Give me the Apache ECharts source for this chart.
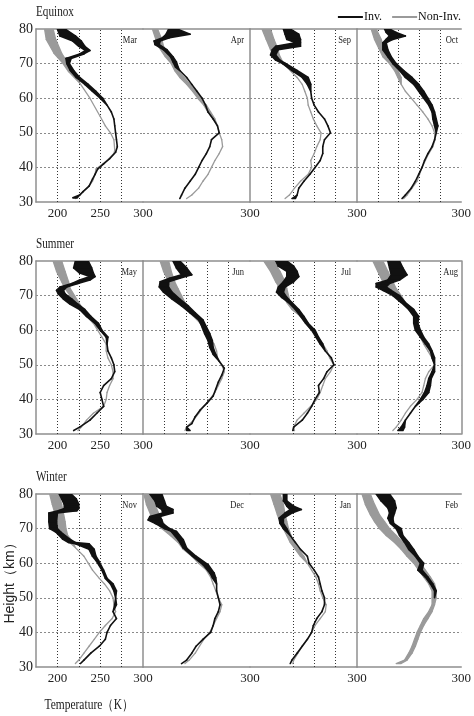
<!DOCTYPE html>
<html>
<head>
<meta charset="utf-8">
<script src="https://cdn.jsdelivr.net/npm/echarts@6/dist/echarts.min.js"></script>
<style>
  html, body { margin: 0; padding: 0; background: #fff; }
  #chart { width: 474px; height: 716px; }
</style>
</head>
<body>
<div id="chart"></div>
<script>
// -------------------------------------------------------------
// Data: temperature profiles
// each point is [height km, T] or [height km, T low, T high]
// -------------------------------------------------------------
var seasons = ['Equinox', 'Summer', 'Winter'];
var months = ['Mar', 'Apr', 'Sep', 'Oct', 'May', 'Jun', 'Jul', 'Aug', 'Nov', 'Dec', 'Jan', 'Feb'];
var firstPanelTempLabels = [200, 250, 300];
var otherPanelTempLabels = [300];
var allGridTemps = [200, 225, 250, 275];
var shortGridTemps = [225, 250, 275];

var marNon = [[80,185,195],[77,187,198],[73,196,205],[70.2,206,212],[67.7,213,216],[64.4,226],[60,238],[54.7,250],[52,256],[50,262],[48,266],[45,267],[44,266],[42.5,260],[41,253],[39.5,245],[38,244],[36,241],[34.6,237],[33,230],[32,226],[31,221]];
var marInv = [[80,200,209],[78,203,221],[76.5,218,228],[75,225,232],[73.8,233,238],[72.8,226,231],[71.5,210,216],[70,211,214],[68,215,219],[66,222,226],[64,232,236],[62,241,245],[60,250,253],[58,258],[56,263],[54,266],[52,267],[50,268],[48,269],[46,270],[44.4,268],[42.5,261],[41,254],[39.5,247],[38,244],[36.6,241],[34.6,237],[33,230],[32,226],[31.2,218,223]];

var aprNon = [[80,186,192],[77,190,197],[75,193,199],[72,201,205],[70,208,212],[68,212,216],[66,218,223],[64,226,230],[62,233,237],[60,239,242],[58,246,249],[56,251,254],[54,257,259],[52,262],[50,264],[48,267],[46,268],[44,264],[42,259],[40,255],[38,251],[36,245],[34,240],[32,232],[31,226]];
var aprInv = [[80,205,215],[78.5,202,230],[77.5,198,206],[76.5,188,195],[75.5,189,194],[74,199,203],[72,207,210],[70.5,210,214],[69,213,216],[68,218],[66,226],[64,232],[62,238],[60,244],[58,248],[56,251],[54,257],[52,262],[50,264],[48,255],[46,253],[44,249],[42,244],[40,240],[38,236],[36,230],[34,224],[32,220],[31,218]];

var sepNon = [[80,189,199],[77,194,203],[74,199,208],[72.6,205,209],[70,214],[68,222],[66,230],[64,236],[62,239],[60,242],[58,243],[56,246],[54,249],[52,253],[50,258],[48,257],[46,253],[44,250],[42,246],[40,247],[38,243],[36,234],[34,227],[32,221],[31,216]];
var sepInv = [[80,214,222],[78.5,216,232],[77,218,234],[76,228,234],[75,205,234],[74,201,208],[72.5,199,205],[71,205,210],[70,213,217],[68,224,230],[66,236,243],[64,242,246],[62,246],[60,247],[58,250],[56,255],[54,262],[52,266],[50,269],[48,262],[46,260],[44,260],[42,257],[40,251],[38,245],[36,238],[34,232],[32,230],[31,224,228]];

var octNon = [[80,192,198],[77,196,204],[74,202,208],[72,206,212],[70,214,218],[68,220,224],[66,224,228],[64,228],[62,233],[60,240],[58,247],[56,254],[54,260],[52,265],[50,268],[48,268.5],[46,266],[44,261],[42,257],[40,253],[38,250],[36,247],[34,241],[32,235],[31,231]];
var octInv = [[80,208,214],[79,210,222],[78,214,233],[77,210,218],[76,206,210],[74,206,212],[72,212,216],[70,218,222],[68,226,231],[66,233,241],[64,243,249],[62,249,255],[60,255,260],[58,261,265],[56,265,268],[54,266,270],[52,268,272],[50,270],[48,268],[46,265],[44,260],[42,256],[40,253],[38,249],[36,245],[34,240],[32,233],[31,229]];

var mayNon = [[80,195,205],[77,199,209],[74,205,213],[72,209,215],[70,215,220],[68,220,225],[66,226,230],[64,234,237],[62,242,244],[60,247],[58,252],[56,257],[54,257],[52,259],[50,263],[48,265],[46,265],[44,261],[42,258],[40,257],[38,254],[36,242],[34,234],[32,228],[31,224]];
var mayInv = [[80,221,236],[78,219,240],[76.5,226,242],[75.5,238,244],[74.5,226,238],[73.5,217,224],[72.5,203,211],[71.5,199,207],[70.5,201,209],[69,207,217],[67.5,215,224],[66,226,232],[64,234,239],[62,244,248],[60,250,252],[58,257,259],[56,258],[54,259],[52,263],[50,266],[48,267],[46,263],[44,254],[42,250],[40,252],[38,254],[36,246],[34,238],[32,226],[31,219]];

var junNon = [[80,195,205],[77,199,208],[74,205,212],[72,208,216],[70,214,220],[68,220,224],[66,226,230],[64,234,238],[62,242],[60,245],[58,252],[56,258],[54,261],[52,262],[50,267],[48,270],[46,267],[44,263],[42,259],[40,253],[38,246],[36,240],[34,234],[32,226],[31,224]];
var junInv = [[80,210,218],[78,214,226],[76,220,232],[75,206,218],[74,195,205],[72.5,194,205],[71,199,209],[69,209,218],[67,220,228],[65,230,236],[63,240,245],[61,244,249],[59,247,253],[57,251,256],[55,253,257],[53,257,260],[51,264],[49,270],[47,267],[45,263],[43,260],[41,257],[39,250],[37,242],[35,236],[33,232],[32,226],[31,226,230]];

var julNon = [[80,191,203],[77,199,210],[74,205,216],[72,210,218],[70,214,220],[68,218,222],[66,224,228],[64,234],[62,240],[60,247],[58,255],[56,260],[54,265],[52,268],[50,273],[48,269],[46,263],[44,260],[42,257],[40,253],[38,246],[36,238],[34,230],[32,226],[31,227]];
var julInv = [[80,205,218],[78.5,208,226],[77,218,230],[75.5,218,232],[74,214,226],[72.5,208,216],[71,206,214],[69.5,212,218],[68,220,224],[66,228,232],[64,234,238],[62,240,243],[60,247,251],[58,252,255],[56,257,260],[54,263],[52,270],[50,273],[48,265],[46,261],[44,255],[42,256],[40,251],[38,247],[36,242],[34,236],[32,226],[31,225]];

var augNon = [[80,194,206],[77,200,212],[74,206,218],[72,214,222],[70,222,228],[68,229,233],[66,237,241],[64,243,247],[62,245],[60,248],[58,251],[56,255],[54,260],[52,265],[50,268],[48,261],[46,257],[44,255],[42,253],[40,247],[38,239],[36,233],[34,228],[32,222],[31,218]];
var augInv = [[80,212,226],[78,214,230],[76,216,235],[74.5,212,226],[73.5,198,214],[72.5,198,210],[71.5,206,216],[70,218,226],[68,228,233],[66,237,243],[64,243,249],[62,243,248],[60,245,251],[58,251,255],[56,257,261],[54,263,265],[52,265,268],[50,268],[48,265,268],[46,261,264],[44,259,263],[42,256,261],[40,251,254],[38,245],[36,239],[34,233],[32,228,232],[31,224,230]];

var novNon = [[80,191,202],[77,194,205],[74.5,197,207],[72,200,209],[70,202,210],[68,206,212],[66.5,212,217],[64.5,221],[62,231],[60,236],[58,241],[55.6,249],[54,255],[52,261],[50,265],[48,266],[46,268],[44,264],[42,256],[40,249],[38,243],[36,237],[34,231],[32,225],[31,221]];
var novInv = [[80,202,216],[78.6,205,222],[77,208,225],[75.8,208,225],[75.2,202,223],[74.5,190,200],[72,190,199],[70,191,200],[69,198,204],[67,206,214],[66,213,221],[65.6,221,237],[64,237,243],[62,241,245],[60.8,245,248],[58,252,254],[55.6,256,258],[54,262,265],[52,266,269],[50,268],[48,267,269],[46,265],[44,269],[42,262],[40,258],[38,256],[36,249],[34,239],[32,231],[31,227]];

var decNon = [[80,176,183],[77,179,189],[74,184,194],[72,190,198],[70,197,203],[68,207,212],[66,216,220],[64,222,226],[62,232,235],[60,240,244],[58,249],[56,254],[54,257],[52,260],[50,263],[48,267],[46,265],[44,261],[42,257],[40,253],[38,246],[36,241],[34,236],[32,229],[31,224]];
var decInv = [[80,183,197],[78,189,200],[76.5,191,202],[75.5,197,210],[74.5,198,210],[73.5,183,195],[72.5,181,197],[71.5,189,198],[70,200,206],[69.2,208,214],[66.8,216,222],[64.4,222,226],[62,233,237],[59.6,245,251],[57.2,253,258],[55.8,256,260],[54,261],[52,261],[50,263],[48,265],[46,263],[44,259],[42,257],[40,254],[38,245],[36,237],[34,232],[32,226],[31,220]];

var janNon = [[80,199,210],[77,203,214],[74,207,216],[72,210,218],[70,214,220],[68,218,223],[66,222,226],[64,228,232],[62,234,238],[60,242],[58,247],[56,252],[54,255],[52,257],[50,260],[48,264],[46,263],[44,257],[42,251],[40,247],[38,242],[36,236],[34,231],[32,226],[31,225]];
var janInv = [[80,214,218],[78,214,218],[76.5,218,226],[75.5,222,235],[74.5,216,224],[73,209,214],[71.5,210,214],[70,214,218],[68,222],[66,228],[64,234],[62,242],[60,244],[58,250],[56,255],[54,257],[52,259],[50,262],[48,262],[46,259],[44,253],[42,249],[40,247],[38,242],[36,236],[34,230],[32,224],[31,222]];

var febNon = [[80,181,191],[77,185,196],[74,191,202],[72,196,208],[70,202,214],[68,210,222],[66,220,230],[64,228,237],[62,235,245],[60,243,251],[58,249,257],[56,255,263],[54,261,268],[52,265,270],[50,265,270],[48,265,268],[46,261,265],[44,255,260],[42,251,255],[40,247,251],[38,244,248],[36,241,245],[34,237,241],[32,232,235],[31,222,228]];
var febInv = [[80,198,214],[78,204,220],[76,212,222],[74.5,214,220],[73,212,218],[71.5,215,219],[70,222,228],[68,226,230],[66,232,237],[64,237,243],[62,245,248],[60,251,255],[58,248,253],[56,257,260],[54,263,266],[52,268,270],[50,268]];

var nonProfiles = [marNon, aprNon, sepNon, octNon, mayNon, junNon, julNon, augNon, novNon, decNon, janNon, febNon];
var invProfiles = [marInv, aprInv, sepInv, octInv, mayInv, junInv, julInv, augInv, novInv, decInv, janInv, febInv];

// -------------------------------------------------------------
// Layout / look of the panels
// -------------------------------------------------------------
var PANEL_LEFT = 36, PANEL_W = 107;
var ROW_TOP = [29, 261, 494], ROW_H = 173;
var FRAME = '#8f8f8f', GRAY = '#9a9a9a', INK = '#111';
var SERIF = '"Liberation Serif", "DejaVu Serif", serif';

// which side of a panel carries a solid frame line
var panelEdge = ['left', 'none', 'left', 'left',
                 'left', 'left', 'none', 'right',
                 'left', 'left', 'none', 'left'];
// dotted temperature gridlines per panel
var panelDots = [allGridTemps, [], allGridTemps, allGridTemps,
                 allGridTemps, allGridTemps, shortGridTemps, allGridTemps,
                 allGridTemps, [], shortGridTemps, []];

// profile -> quad segments [lo1, h1, hi1, lo2, h2, hi2]
function segments(profile) {
    var out = [];
    for (var k = 0; k < profile.length - 1; k++) {
        var a = profile[k], b = profile[k + 1];
        out.push([a[1], a[0], a.length > 2 ? a[2] : a[1],
                  b[1], b[0], b.length > 2 ? b[2] : b[1]]);
    }
    return out;
}

function bandRenderer(color, width) {
    return function (params, api) {
        var a1 = api.coord([api.value(0), api.value(1)]);
        var a2 = api.coord([api.value(2), api.value(1)]);
        var b2 = api.coord([api.value(5), api.value(4)]);
        var b1 = api.coord([api.value(3), api.value(4)]);
        return {
            type: 'polygon',
            shape: { points: [a1, a2, b2, b1] },
            style: { fill: color, stroke: color, lineWidth: width, lineJoin: 'round' }
        };
    };
}

var grids = [], xAxes = [], yAxes = [], series = [], graphics = [];

months.forEach(function (m, i) {
    var row = Math.floor(i / 4), col = i % 4;
    var edge = panelEdge[i];
    var labels = col === 0 ? firstPanelTempLabels : otherPanelTempLabels;

    grids.push({ left: PANEL_LEFT + col * PANEL_W, top: ROW_TOP[row], width: PANEL_W, height: ROW_H });

    // bottom axis with tick labels
    xAxes.push({
        gridIndex: i, type: 'value', min: 175, max: 300, interval: 25, position: 'bottom',
        axisLine: { show: true, onZero: false, lineStyle: { color: FRAME, width: 1.5 } },
        axisTick: { show: false },
        splitLine: { show: false },
        axisLabel: {
            margin: 5, color: '#222', fontFamily: SERIF, fontSize: 13,
            formatter: function (v) { return labels.indexOf(v) >= 0 ? String(v) : ''; }
        }
    });
    // top frame line
    xAxes.push({
        gridIndex: i, type: 'value', min: 175, max: 300, position: 'top',
        axisLine: { show: true, onZero: false, lineStyle: { color: FRAME, width: 1.5 } },
        axisTick: { show: false }, axisLabel: { show: false }, splitLine: { show: false }
    });

    yAxes.push({
        gridIndex: i, type: 'value', min: 30, max: 80, interval: 10,
        position: edge === 'right' ? 'right' : 'left',
        axisLine: { show: edge !== 'none', onZero: false, lineStyle: { color: FRAME, width: 1.5 } },
        axisTick: { show: false },
        axisLabel: { show: col === 0, margin: 3, color: '#222', fontFamily: SERIF, fontSize: 14 },
        splitLine: {
            show: true, showMinLine: false, showMaxLine: false,
            lineStyle: { color: '#8a8a8a', type: [2, 2], width: 1 }
        }
    });

    // dotted temperature lines
    series.push({
        type: 'line', name: m + ' grid', xAxisIndex: 2 * i, yAxisIndex: i, data: [], z: 1,
        silent: true,
        markLine: {
            silent: true, symbol: 'none', animation: false, z: 1,
            label: { show: false },
            lineStyle: { color: '#333', type: [1, 2], width: 1 },
            data: panelDots[i].map(function (t) { return { xAxis: t }; })
        }
    });

    series.push({
        type: 'custom', name: m + ' Non-Inv.', xAxisIndex: 2 * i, yAxisIndex: i,
        data: segments(nonProfiles[i]), renderItem: bandRenderer(GRAY, 1.3),
        z: 10, silent: true, clip: true
    });
    series.push({
        type: 'custom', name: m + ' Inv.', xAxisIndex: 2 * i, yAxisIndex: i,
        data: segments(invProfiles[i]), renderItem: bandRenderer(INK, 1.6),
        z: 11, silent: true, clip: true
    });

    // month tag in the upper right of each panel
    graphics.push({
        type: 'text', x: PANEL_LEFT + (col + 1) * PANEL_W - 6, y: ROW_TOP[row] + 11, scaleX: 0.85,
        style: { text: m, fill: '#222', font: '10px ' + SERIF, align: 'right', verticalAlign: 'middle' }
    });
});

// season titles
seasons.forEach(function (s, r) {
    graphics.push({
        type: 'text', x: PANEL_LEFT, y: ROW_TOP[r] - 17, scaleX: 0.8,
        style: { text: s, fill: '#222', font: '14px ' + SERIF, align: 'left', verticalAlign: 'middle' }
    });
});

graphics.push({
    type: 'text', x: 10, y: 580, rotation: Math.PI / 2,
    style: { text: 'Height\uFF08km\uFF09', fill: '#222', font: '14px "Liberation Sans", Arial, sans-serif',
             align: 'center', verticalAlign: 'middle' }
});
graphics.push({
    type: 'text', x: 89, y: 705, scaleX: 0.82,
    style: { text: 'Temperature\uFF08K\uFF09', fill: '#222', font: '14px ' + SERIF,
             align: 'center', verticalAlign: 'middle' }
});

// legend carriers
series.unshift(
    { type: 'line', name: 'Inv.', xAxisIndex: 0, yAxisIndex: 0, data: [], symbol: 'none',
      lineStyle: { color: INK, width: 2 }, itemStyle: { color: INK } },
    { type: 'line', name: 'Non-Inv.', xAxisIndex: 0, yAxisIndex: 0, data: [], symbol: 'none',
      lineStyle: { color: GRAY, width: 2 }, itemStyle: { color: GRAY } }
);

var chart = echarts.init(document.getElementById('chart'));
chart.setOption({
    animation: false,
    backgroundColor: '#fff',
    legend: {
        data: ['Inv.', 'Non-Inv.'], right: 8, top: 6, icon: 'rect',
        itemWidth: 25, itemHeight: 2, itemGap: 10, selectedMode: false,
        textStyle: { color: '#111', fontFamily: SERIF, fontSize: 12, padding: [0, 0, 0, -4] }
    },
    grid: grids,
    xAxis: xAxes,
    yAxis: yAxes,
    series: series,
    graphic: graphics
});
window.addEventListener('resize', function () { chart.resize(); });
</script>
</body>
</html>
